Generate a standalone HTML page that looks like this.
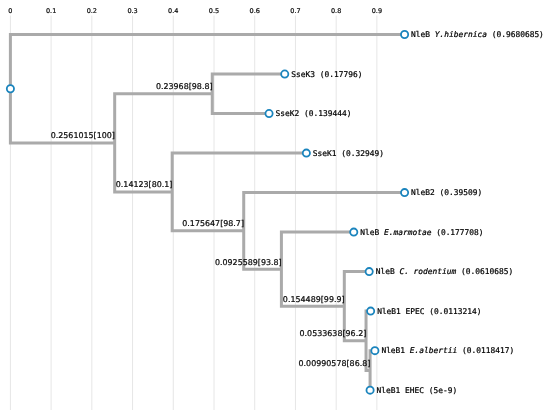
<!DOCTYPE html><html><head><meta charset="utf-8"><title>tree</title><style>html,body{margin:0;padding:0;background:#fff}svg{display:block}text{font-family:"DejaVu Sans","Liberation Sans",sans-serif}text{stroke:#000;stroke-width:0.22px;paint-order:stroke}.m{font-family:"DejaVu Sans Mono","Liberation Mono",monospace;font-size:7.88px;fill:#000}.t{font-size:6.5px;fill:#111;text-anchor:middle}.i{font-size:7.95px;fill:#0a0a0a;text-anchor:end}</style></head><body>
<svg width="550" height="418" viewBox="0 0 550 418">
<rect width="550" height="418" fill="#fff"/>
<line x1="10.40" x2="10.40" y1="15.5" y2="410" stroke="#e6e6e6" stroke-width="1"/>
<text class="t" x="10.40" y="12.9">0</text>
<line x1="51.12" x2="51.12" y1="15.5" y2="410" stroke="#e6e6e6" stroke-width="1"/>
<text class="t" x="51.12" y="12.9">0.1</text>
<line x1="91.84" x2="91.84" y1="15.5" y2="410" stroke="#e6e6e6" stroke-width="1"/>
<text class="t" x="91.84" y="12.9">0.2</text>
<line x1="132.56" x2="132.56" y1="15.5" y2="410" stroke="#e6e6e6" stroke-width="1"/>
<text class="t" x="132.56" y="12.9">0.3</text>
<line x1="173.28" x2="173.28" y1="15.5" y2="410" stroke="#e6e6e6" stroke-width="1"/>
<text class="t" x="173.28" y="12.9">0.4</text>
<line x1="214.00" x2="214.00" y1="15.5" y2="410" stroke="#e6e6e6" stroke-width="1"/>
<text class="t" x="214.00" y="12.9">0.5</text>
<line x1="254.72" x2="254.72" y1="15.5" y2="410" stroke="#e6e6e6" stroke-width="1"/>
<text class="t" x="254.72" y="12.9">0.6</text>
<line x1="295.44" x2="295.44" y1="15.5" y2="410" stroke="#e6e6e6" stroke-width="1"/>
<text class="t" x="295.44" y="12.9">0.7</text>
<line x1="336.16" x2="336.16" y1="15.5" y2="410" stroke="#e6e6e6" stroke-width="1"/>
<text class="t" x="336.16" y="12.9">0.8</text>
<line x1="376.88" x2="376.88" y1="15.5" y2="410" stroke="#e6e6e6" stroke-width="1"/>
<text class="t" x="376.88" y="12.9">0.9</text>
<path d="M10.40,88.72V34.55H404.60M10.40,88.72V142.89H114.68M114.68,142.89V93.81H212.28M114.68,142.89V191.97H172.19M212.28,93.81V74.06H284.75M212.28,93.81V113.57H269.06M172.19,191.97V153.08H306.36M172.19,191.97V230.87H243.72M243.72,230.87V192.59H404.60M243.72,230.87V269.14H281.41M281.41,269.14V232.10H353.77M281.41,269.14V306.18H344.31M344.31,306.18V271.61H369.18M344.31,306.18V340.75H366.04M366.04,340.75V311.12H370.65M366.04,340.75V370.38H370.08M370.08,370.38V350.63H374.90M370.08,370.38V390.14H370.08" fill="none" stroke="#aaaaaa" stroke-width="3" stroke-linejoin="miter"/>
<text class="i" x="114.98" y="138.34">0.2561015[100]</text>
<text class="i" x="212.58" y="89.27">0.23968[98.8]</text>
<text class="i" x="172.49" y="187.42">0.14123[80.1]</text>
<text class="i" x="244.02" y="226.32">0.175647[98.7]</text>
<text class="i" x="281.71" y="264.59">0.0925589[93.8]</text>
<text class="i" x="344.61" y="301.63">0.154489[99.9]</text>
<text class="i" x="366.34" y="336.20">0.0533638[96.2]</text>
<text class="i" x="370.38" y="365.83">0.00990578[86.8]</text>
<circle cx="10.40" cy="88.72" r="3.6" fill="#fff" stroke="#1a84bd" stroke-width="1.8"/>
<circle cx="404.60" cy="34.55" r="3.6" fill="#fff" stroke="#1a84bd" stroke-width="1.8"/>
<text class="m" x="411.10" y="37.35" xml:space="preserve">NleB <tspan font-style="italic">Y.hibernica</tspan> (0.9680685)</text>
<circle cx="284.75" cy="74.06" r="3.6" fill="#fff" stroke="#1a84bd" stroke-width="1.8"/>
<text class="m" x="291.25" y="76.86" xml:space="preserve">SseK3 (0.17796)</text>
<circle cx="269.06" cy="113.57" r="3.6" fill="#fff" stroke="#1a84bd" stroke-width="1.8"/>
<text class="m" x="275.56" y="116.37" xml:space="preserve">SseK2 (0.139444)</text>
<circle cx="306.36" cy="153.08" r="3.6" fill="#fff" stroke="#1a84bd" stroke-width="1.8"/>
<text class="m" x="312.86" y="155.88" xml:space="preserve">SseK1 (0.32949)</text>
<circle cx="404.60" cy="192.59" r="3.6" fill="#fff" stroke="#1a84bd" stroke-width="1.8"/>
<text class="m" x="411.10" y="195.39" xml:space="preserve">NleB2 (0.39509)</text>
<circle cx="353.77" cy="232.10" r="3.6" fill="#fff" stroke="#1a84bd" stroke-width="1.8"/>
<text class="m" x="360.27" y="234.90" xml:space="preserve">NleB <tspan font-style="italic">E.marmotae</tspan> (0.177708)</text>
<circle cx="369.18" cy="271.61" r="3.6" fill="#fff" stroke="#1a84bd" stroke-width="1.8"/>
<text class="m" x="375.68" y="274.41" xml:space="preserve">NleB <tspan font-style="italic">C. rodentium</tspan> (0.0610685)</text>
<circle cx="370.65" cy="311.12" r="3.6" fill="#fff" stroke="#1a84bd" stroke-width="1.8"/>
<text class="m" x="377.15" y="313.92" xml:space="preserve">NleB1 EPEC (0.0113214)</text>
<circle cx="374.90" cy="350.63" r="3.6" fill="#fff" stroke="#1a84bd" stroke-width="1.8"/>
<text class="m" x="381.40" y="353.43" xml:space="preserve">NleB1 <tspan font-style="italic">E.albertii</tspan> (0.0118417)</text>
<circle cx="370.08" cy="390.14" r="3.6" fill="#fff" stroke="#1a84bd" stroke-width="1.8"/>
<text class="m" x="376.58" y="392.94" xml:space="preserve">NleB1 EHEC (5e-9)</text>
</svg></body></html>
